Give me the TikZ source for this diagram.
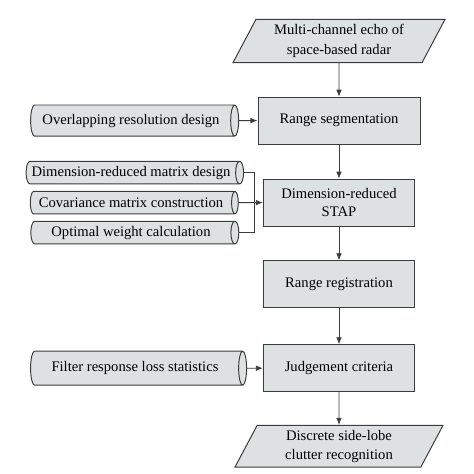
\documentclass[tikz,border=0pt]{standalone}
\usepackage{fontspec}
\setmainfont{Liberation Serif}
\newfontfamily\timesfont{Liberation Serif}
\usetikzlibrary{arrows.meta, positioning, shapes.geometric, calc}

\begin{document}
\begin{tikzpicture}[
    font=\timesfont\fontsize{10.4}{12.5}\selectfont,
    >={Latex[length=5pt,width=4pt]},
    node distance=2.04cm,
    on grid,
    block/.style={
        draw=colorLine,
        line width=0.7pt,
        fill=colorBox,
        align=center,
        minimum width=3.78cm,
        minimum height=1.17cm
    },
    io/.style={
        trapezium,
        trapezium left angle=62,
        trapezium right angle=118,
        trapezium stretches body,
        draw=colorLine,
        line width=0.7pt,
        fill=colorBox,
        align=center,
        minimum width=5.3cm,
        minimum height=1cm
    },
    tube/.style={
        cylinder,
        shape aspect=0.35,
        draw=colorLine,
        line width=0.7pt,
        fill=colorBox,
        minimum height=5.2cm,   % length along the axis
        minimum width=0.56cm    % diameter
    },
    link/.style={->, draw=colorLine, line width=0.6pt}
]

%--- Define colors ---
\definecolor{colorBox}{RGB}{221,225,225}    % Light gray fill
\definecolor{colorLine}{RGB}{60,60,60}      % Dark gray outline

\useasboundingbox (0,0) rectangle (11.85,-11.85);

%------------------------------------
% MAIN COLUMN
%------------------------------------

% 1) Radar echo input
\node[io] (echo) at (8.475,-1.025)
{Multi-channel echo of\\[2pt]space-based radar};

% 2) Range segmentation
\node[block, minimum width=4.05cm, below=1.99cm of echo] (segment)
{Range segmentation};

% 3) Dimension-reduced STAP
\node[block, below=2.05cm of segment] (stap)
{Dimension-reduced\\STAP};

% 4) Range registration
\node[block, below=of stap] (register)
{Range registration};

% 5) Judgement criteria
\node[block, below=2.1cm of register] (judge)
{Judgement criteria};

% 6) Recognition output
\node[io, minimum width=5.2cm, minimum height=0.95cm, below=1.95cm of judge] (result)
{Discrete side-lobe\\[1pt]clutter recognition};


%------------------------------------
% LEFT COLUMN: DESIGN INPUTS
%------------------------------------

% Overlapping resolution
\node[tube, minimum width=0.78cm, left=5.2cm of segment] (overlap)
{Overlapping resolution design};

% STAP design steps
\node[tube, left=5.2cm of stap] (covariance)
{Covariance matrix construction};

\node[tube, above=0.75cm of covariance] (matrix)
{Dimension-reduced matrix design};

\node[tube, below=0.75cm of covariance] (weight)
{Optimal weight calculation};

% Filter response statistics
\node[tube, minimum height=5.4cm, minimum width=0.85cm, left=5.1cm of judge] (filter)
{Filter response loss statistics};


%------------------
% EDGES (ARROWS)
%------------------

% Main column
\draw[link] (echo.south) -- (segment.north);
\draw[link] (segment.south) -- (stap.north);
\draw[link] (stap.south) -- (register.north);
\draw[link] (register.south) -- (judge.north);
\draw[link] (judge.south) -- (result.north);

% Left inputs
\draw[link] (overlap.east) -- (segment.west);

% Bracket joining the three STAP steps
\draw[draw=colorLine, line width=0.6pt]
    (matrix.east) -- ++(0.25,0)
    |- (weight.east);
\draw[link] (covariance.east) -- (stap.west);

\draw[link] (filter.east) -- (judge.west);

\end{tikzpicture}
\end{document}
